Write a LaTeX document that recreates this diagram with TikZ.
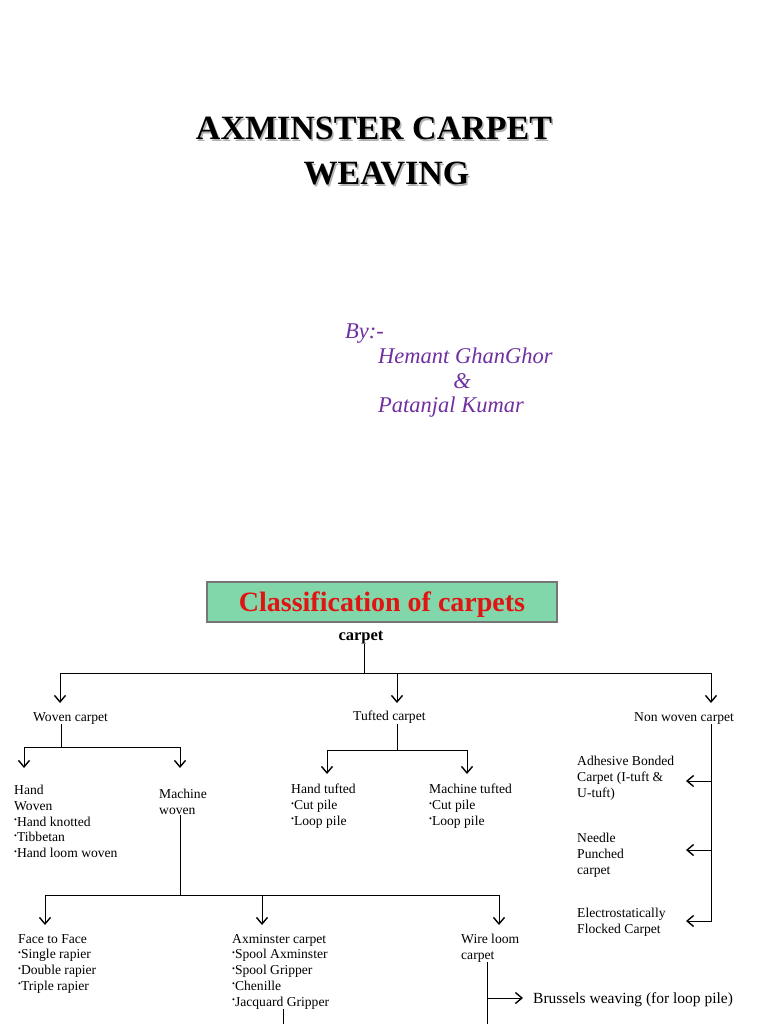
\documentclass[tikz,border=0pt]{standalone}
\usepackage{fontspec}
\setmainfont{Liberation Serif}
\usetikzlibrary{arrows.meta, positioning}
\definecolor{authpurple}{RGB}{112, 48, 160}
\definecolor{boxgreen}{RGB}{130, 215, 170}
\definecolor{boxedge}{RGB}{118, 118, 118}
\definecolor{headred}{RGB}{225, 20, 20}
\newcommand{\dotitem}{\raisebox{0.55ex}{\scalebox{0.6}{\textbullet}}}

\begin{document}
\begin{tikzpicture}[x=1pt, y=-1pt,
  lbl/.style={font=\fontsize{13.6}{15.7}\selectfont, inner sep=0pt, align=left, anchor=north west},
  ttl/.style={font=\fontsize{34}{40}\selectfont\bfseries, inner sep=0pt, anchor=base},
  auth/.style={font=\fontsize{22.5}{25}\selectfont\itshape, text=authpurple, inner sep=0pt, anchor=base west},
  link/.style={line width=0.9pt},
  arr/.style={-{Straight Barb[length=6.5pt, width=11pt, line width=1.4pt]}, line width=0.9pt}
]
  \useasboundingbox (0,0) rectangle (768,1024);

  % title with its shadow
  \node[ttl, text=black!30] (title1s) at (375.5,141.5) {AXMINSTER CARPET};
  \node[ttl] (title1) at (374,140) {AXMINSTER CARPET};
  \node[ttl, text=black!30] (title2s) at (388,186.5) {WEAVING};
  \node[ttl] (title2) at (386.5,185) {WEAVING};

  \node[auth] (by) at (345,338) {By:-};
  \node[auth] (auth1) at (378,363) {Hemant GhanGhor};
  \node[auth, anchor=base] (amp) at (462,388) {\&};
  \node[auth] (auth2) at (378,412) {Patanjal Kumar};

  % classification tree
  \node[draw=boxedge, line width=1.5pt, fill=boxgreen, minimum width=350pt, minimum height=40pt,
        text depth=0.5pt, font=\fontsize{28}{30}\selectfont\bfseries, text=headred] (classhead) at (382,602) {Classification of carpets};
  \node[font=\fontsize{16.5}{18}\selectfont\bfseries, inner sep=0pt, anchor=base] (carpet) at (361,640) {carpet};

  \node[lbl] (woven) at (33,712) {Woven carpet};
  \node[lbl] (tufted) at (353,711) {Tufted carpet};
  \node[lbl] (nonwoven) at (634,712) {Non woven carpet};

  \node[lbl] (handwoven) at (14,785) {Hand\\Woven\\\dotitem Hand knotted\\\dotitem Tibbetan\\\dotitem Hand loom woven};
  \node[lbl] (machwoven) at (159,789) {Machine\\woven};
  \node[lbl] (handtufted) at (291,784) {Hand tufted\\\dotitem Cut pile\\\dotitem Loop pile};
  \node[lbl] (machtufted) at (429,784) {Machine tufted\\\dotitem Cut pile\\\dotitem Loop pile};

  \node[lbl] (adhesive) at (577,756) {Adhesive Bonded\\Carpet (I-tuft \&\\U-tuft)};
  \node[lbl] (needle) at (577,833) {Needle\\Punched\\carpet};
  \node[lbl] (electro) at (577,908) {Electrostatically\\Flocked Carpet};

  \node[lbl] (facetoface) at (18,934) {Face to Face\\\dotitem Single rapier\\\dotitem Double rapier\\\dotitem Triple rapier};
  \node[lbl] (axminster) at (232,934) {Axminster carpet\\\dotitem Spool Axminster\\\dotitem Spool Gripper\\\dotitem Chenille\\\dotitem Jacquard Gripper};
  \node[lbl] (wireloom) at (461,934) {Wire loom\\carpet};
  \node[font=\fontsize{15.5}{17}\selectfont, inner sep=0pt, anchor=base west] (brussels) at (533,1003) {Brussels weaving (for loop pile)};

  \coordinate (bus0) at (364,673);
  \coordinate (wovenIn) at (60,703);
  \coordinate (tuftedIn) at (397,703);
  \coordinate (nonwovenIn) at (711,703);
  \coordinate (bus1) at (61,747);
  \coordinate (handIn) at (24,768);
  \coordinate (machIn) at (180,768);
  \coordinate (bus3) at (397,750);
  \coordinate (htIn) at (327,774);
  \coordinate (mtIn) at (467,774);
  \coordinate (nwEnd) at (711,921);
  \coordinate (adhIn) at (686,781);
  \coordinate (needIn) at (686,850);
  \coordinate (elecIn) at (686,921);
  \coordinate (bus2) at (180,895);
  \coordinate (faceIn) at (45,925);
  \coordinate (axIn) at (262,925);
  \coordinate (wireIn) at (499,925);
  \coordinate (axEnd) at (283,1024);
  \coordinate (wireEnd) at (487,1024);
  \coordinate (brusIn) at (523,998);

  \draw[link] (carpet.south -| bus0) -- (bus0);
  \draw[link] (bus0 -| wovenIn) -- (bus0 -| nonwovenIn);
  \draw[arr] (bus0 -| wovenIn) -- (wovenIn);
  \draw[arr] (bus0 -| tuftedIn) -- (tuftedIn);
  \draw[arr] (bus0 -| nonwovenIn) -- (nonwovenIn);

  \draw[link] (woven.south -| bus1) -- (bus1);
  \draw[link] (bus1 -| handIn) -- (bus1 -| machIn);
  \draw[arr] (bus1 -| handIn) -- (handIn);
  \draw[arr] (bus1 -| machIn) -- (machIn);

  \draw[link] (tufted.south -| bus3) -- (bus3);
  \draw[link] (bus3 -| htIn) -- (bus3 -| mtIn);
  \draw[arr] (bus3 -| htIn) -- (htIn);
  \draw[arr] (bus3 -| mtIn) -- (mtIn);

  \draw[arr] (nonwoven.south -| nwEnd) |- (elecIn);
  \draw[arr] (adhIn -| nwEnd) -- (adhIn);
  \draw[arr] (needIn -| nwEnd) -- (needIn);

  \draw[link] (machwoven.south -| bus2) -- (bus2);
  \draw[link] (bus2 -| faceIn) -- (bus2 -| wireIn);
  \draw[arr] (bus2 -| faceIn) -- (faceIn);
  \draw[arr] (bus2 -| axIn) -- (axIn);
  \draw[arr] (bus2 -| wireIn) -- (wireIn);

  \draw[link] (axminster.south -| axEnd) -- (axEnd);
  \draw[link] (wireloom.south -| wireEnd) -- (wireEnd);
  \draw[arr] (brusIn -| wireEnd) -- (brusIn);
\end{tikzpicture}
\end{document}
